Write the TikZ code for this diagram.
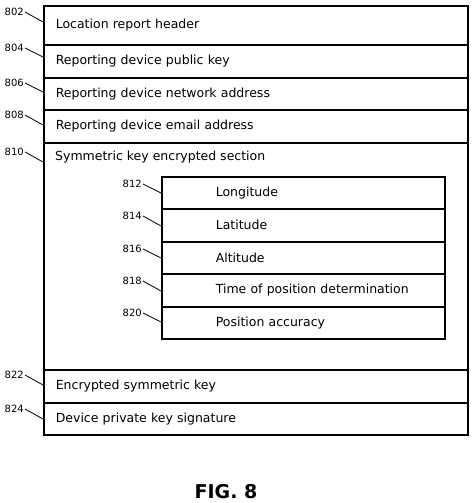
\documentclass[tikz,border=0pt]{standalone}
\usepackage{fontspec}
\setmainfont{DejaVu Sans}
\usetikzlibrary{positioning}

\tikzset{
  field/.style={draw, line width=1.6pt, anchor=north west, inner xsep=12pt, text width=400pt, align=left, font=\fontsize{12.5}{14}\selectfont},
  subfield/.style={draw, line width=1.6pt, anchor=north west, inner xsep=0pt, text width=283pt, align=left, font=\fontsize{12.5}{14}\selectfont, execute at begin node=\hspace*{54pt}},
  refnum/.style={anchor=east, inner sep=1pt, font=\fontsize{10}{12}\selectfont},
  leader/.style={line width=0.8pt}
}

\begin{document}
\begin{tikzpicture}[x=1pt, y=-1pt]
  \useasboundingbox (0,0) rectangle (474,503);

  % outer fields
  \node[field, minimum height=39pt] (header) at (43,5) {Location report header};
  \node[field, minimum height=33pt] (pubkey) at (43,44) {Reporting device public key};
  \node[field, minimum height=32pt] (netaddr) at (43,77) {Reporting device network address};
  \node[field, minimum height=33pt] (email) at (43,109) {Reporting device email address};
  \node[field, minimum height=227pt] (section) at (43,142) {};
  \node[anchor=west, inner sep=0pt, font=\fontsize{12.5}{14}\selectfont] (sectitle) at (55,157) {Symmetric key encrypted section};
  \node[field, minimum height=33pt] (symkey) at (43,369) {Encrypted symmetric key};
  \node[field, minimum height=32pt] (signature) at (43,402) {Device private key signature};

  % inner fields
  \node[subfield, minimum height=32pt] (longitude) at (161,176) {Longitude};
  \node[subfield, minimum height=33pt] (latitude) at (161,208) {Latitude};
  \node[subfield, minimum height=32pt] (altitude) at (161,241) {Altitude};
  \node[subfield, minimum height=33pt] (postime) at (161,273) {Time of position determination};
  \node[subfield, minimum height=32pt] (accuracy) at (161,306) {Position accuracy};

  % reference numerals
  \coordinate (c802) at (43,22);
  \coordinate (c804) at (43,57);
  \coordinate (c806) at (43,92);
  \coordinate (c808) at (43,125);
  \coordinate (c810) at (43,162);
  \coordinate (c822) at (43,385);
  \coordinate (c824) at (43,419);
  \coordinate (c812) at (161,193);
  \coordinate (c814) at (161,226);
  \coordinate (c816) at (161,258);
  \coordinate (c818) at (161,291);
  \coordinate (c820) at (161,322);

  \node[refnum] (n802) at (25,12) {802};
  \node[refnum] (n804) at (25,48) {804};
  \node[refnum] (n806) at (25,83) {806};
  \node[refnum] (n808) at (25,115) {808};
  \node[refnum] (n810) at (25,152) {810};
  \node[refnum] (n822) at (25,375) {822};
  \node[refnum] (n824) at (25,409) {824};
  \node[refnum] (n812) at (143,184) {812};
  \node[refnum] (n814) at (143,216) {814};
  \node[refnum] (n816) at (143,249) {816};
  \node[refnum] (n818) at (143,281) {818};
  \node[refnum] (n820) at (143,313) {820};

  \foreach \n in {802,804,806,808,810,822,824,812,814,816,818,820}
    \draw[leader] (n\n.east) -- (c\n);

  \node[font=\bfseries\fontsize{19}{22}\selectfont] (fig) at (226,492) {FIG. 8};
\end{tikzpicture}
\end{document}
